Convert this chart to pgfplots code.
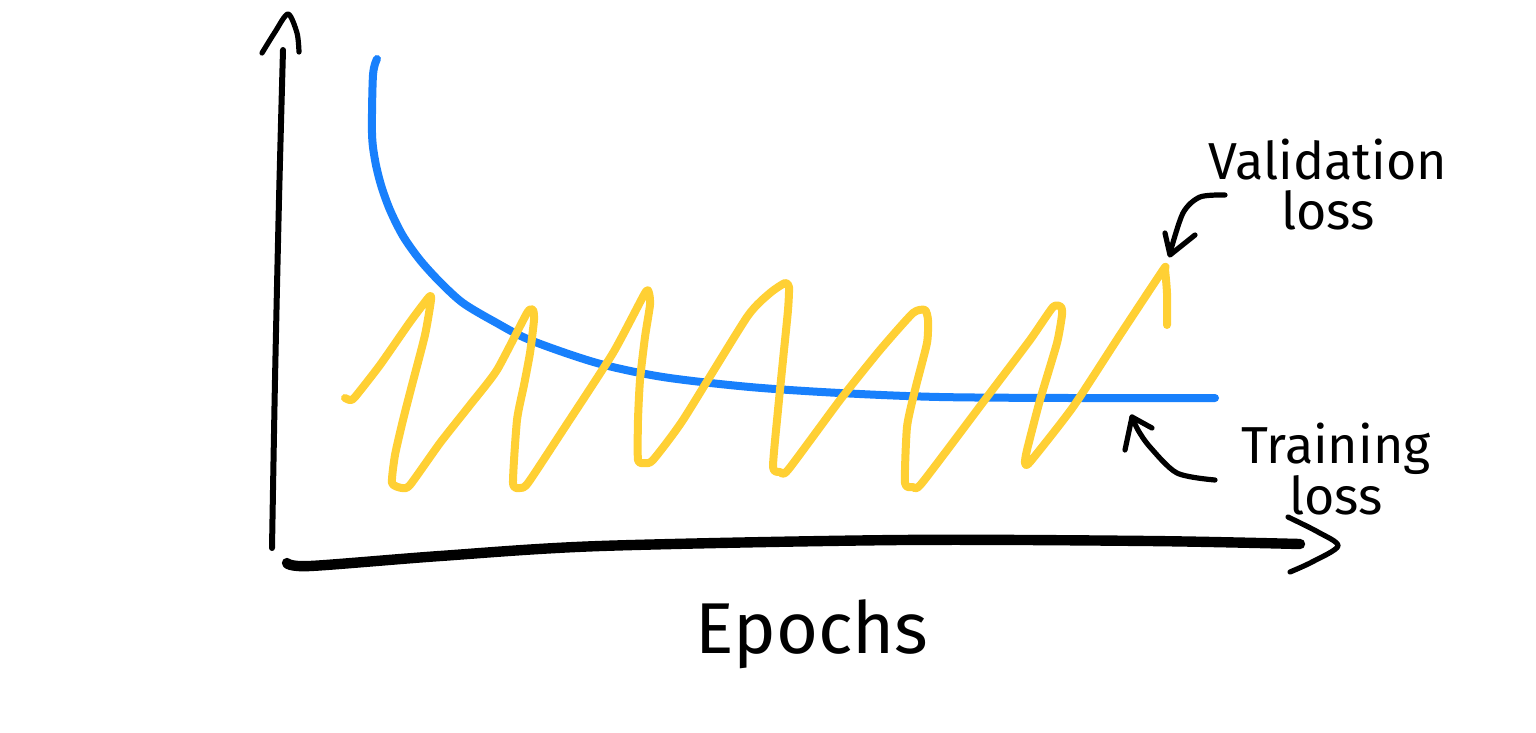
\documentclass[border=0pt]{standalone}
\usepackage{fontspec}
\setmainfont{Fira Sans}
\usepackage{pgfplots}
\pgfplotsset{compat=1.18}
\definecolor{LossBlue}{RGB}{24,128,252}
\definecolor{LossYellow}{RGB}{255,208,52}

\begin{document}
\begin{tikzpicture}
\begin{axis}[
  x=0.25pt, y=0.25pt,
  xmin=0, xmax=1536, ymin=0, ymax=732,
  y dir=reverse,
  hide axis,
  clip=false,
  every axis plot/.append style={line cap=round, line join=round, mark=none},
]
% axes, hand drawn
\addplot[black, line width=1.5pt, smooth] coordinates {(283,50) (279,200) (275,380) (272,548)};
\addplot[black, line width=1.3pt, smooth] coordinates {(262,53) (275,32) (288,14) (297,33) (299,52)};
\addplot[black, line width=2.6pt, smooth] coordinates {(287,563) (310,566) (440,556) (600,546) (900,540) (1150,541) (1300,544)};
\addplot[black, line width=1.3pt, smooth] coordinates {(1288,517) (1318,532) (1338,546) (1312,562) (1290,572)};

% training loss (blue)
\addplot[LossBlue, line width=2pt, smooth] coordinates {
  (377,59) (373,75) (372,133) (375,160) (381,185) (390,210) (403,236)
  (420,260) (440,282) (463,303) (495,322) (530,340) (597,363) (663,377)
  (750,387) (840,393) (940,397) (1073,398) (1215,398)};

% validation loss (yellow)
\addplot[LossYellow, line width=2pt, smooth, tension=0.35] coordinates {
  (345,398) (350,400) (355,397) (380,365) (410,322) (429,297) (431,300)
  (425,335) (412,385) (403,420) (395,455) (392,483) (402,488) (410,485)
  (440,443) (470,405) (497,370) (527,313) (533,310) (534,320)
  (530,353) (524,385) (517,420) (513,483) (520,488) (528,483)
  (563,430) (613,353) (645,293) (649,293) (650,305)
  (645,337) (640,380) (638,420) (638,460) (645,463) (653,460)
  (683,420) (747,317) (770,293) (785,283) (789,287) (788,310)
  (783,360) (778,410) (773,467) (780,472) (788,470)
  (840,400) (880,350) (913,313) (925,310) (928,320)
  (927,343) (915,390) (907,427) (905,483) (913,487) (922,483)
  (990,393) (1030,340) (1053,307) (1061,307) (1062,315)
  (1057,343) (1040,400) (1027,450) (1025,463) (1030,462)
  (1073,407) (1120,335) (1163,270) (1165,270) (1167,293) (1167,325)};

% annotation arrows
\addplot[black, line width=1.3pt, smooth] coordinates {(1225,195) (1200,197) (1183,213) (1170,253)};
\addplot[black, line width=1.3pt] coordinates {(1165,233) (1170,255) (1195,235)};
\addplot[black, line width=1.3pt, smooth] coordinates {(1215,480) (1177,473) (1150,447) (1138,430) (1132,417)};
\addplot[black, line width=1.3pt] coordinates {(1125,450) (1132,417) (1152,428)};

\node[font=\fontsize{13}{15}\selectfont] at (axis cs:1328,160) {Validation};
\node[font=\fontsize{13}{15}\selectfont] at (axis cs:1328,210) {loss};
\node[font=\fontsize{13}{15}\selectfont] at (axis cs:1336,449) {Training};
\node[font=\fontsize{13}{15}\selectfont] at (axis cs:1336,495) {loss};
\node[font=\fontsize{18}{20}\selectfont] at (axis cs:812,634) {Epochs};
\end{axis}
\pgfresetboundingbox
\path (current axis.south west) rectangle (current axis.north east);
\end{tikzpicture}
\end{document}
